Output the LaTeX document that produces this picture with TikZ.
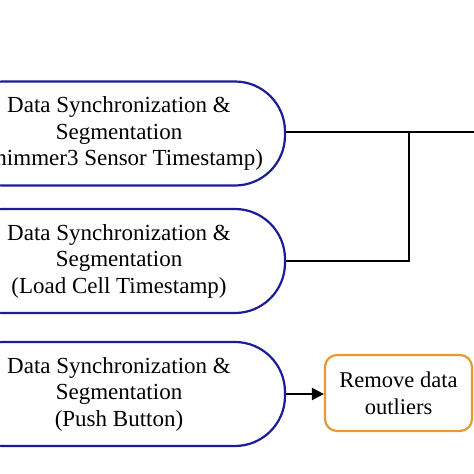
\documentclass[tikz,border=0pt]{standalone}
\usepackage{fontspec}
\setmainfont{Liberation Serif}
\usetikzlibrary{arrows.meta}
\definecolor{boxblue}{HTML}{1C1C9A}
\definecolor{boxorange}{HTML}{E39B32}
\begin{document}
\begin{tikzpicture}[x=1pt,y=-1pt,
  syncbox/.style={draw=boxblue,line width=2.2pt,rounded corners=50pt,
    minimum width=332pt,minimum height=104pt,align=center,inner sep=0pt,
    font=\fontsize{23pt}{26.5pt}\selectfont},
  outbox/.style={draw=boxorange,line width=2.2pt,rounded corners=12pt,
    minimum width=147pt,minimum height=76pt,align=center,inner sep=0pt,
    font=\fontsize{22.5pt}{27pt}\selectfont},
  conn/.style={line width=2.2pt,black},
  arr/.style={conn,-{Triangle[length=12pt,width=12pt]}}]
\useasboundingbox (0,0) rectangle (474,474);
\clip (0,0) rectangle (474,474);
\fill[white] (0,0) rectangle (474,474);
\node[syncbox] (s1) at (119,133.5) {Data Synchronization \&\\Segmentation\\(Shimmer3 Sensor Timestamp)};
\node[syncbox] (s2) at (119,261) {Data Synchronization \&\\Segmentation\\(Load Cell Timestamp)};
\node[syncbox] (s3) at (119,394) {Data Synchronization \&\\Segmentation\\(Push Button)};
\node[outbox] (ro) at (398.5,393) {Remove data\\outliers};
\coordinate (j) at (409,132);
\coordinate (out) at (480,132);
\draw[conn] (s1.east |- j) -- (out);
\draw[conn] (s2.east) -| (j);
\draw[arr] (s3.east) -- (ro.west |- s3.east);
\end{tikzpicture}
\end{document}
